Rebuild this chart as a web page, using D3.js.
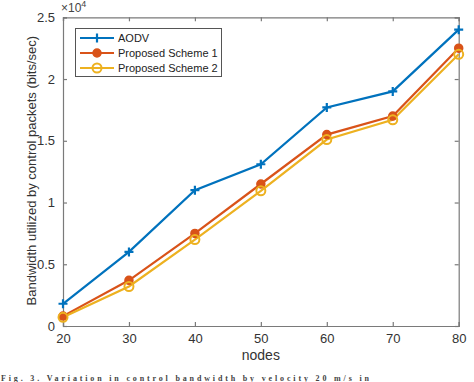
<!DOCTYPE html>
<html><head><meta charset="utf-8">
<script src="https://cdn.jsdelivr.net/npm/d3@7"></script>
<style>body{margin:0;background:#fff}svg{display:block}</style>
</head><body>
<svg id="c" width="474" height="382"></svg>
<script>
const nodes = [20, 30, 40, 50, 60, 70, 80];
const aodv = [1800, 6000, 11000, 13100, 17700, 19000, 24000];
const scheme1 = [800, 3700, 7500, 11500, 15500, 17000, 22500];
const scheme2 = [700, 3200, 7000, 10950, 15100, 16700, 22000];
const seriesNames = ["AODV", "Proposed Scheme 1", "Proposed Scheme 2"];
const yTicks = [0, 5000, 10000, 15000, 20000, 25000];
const yTickLabels = ["0", "0.5", "1", "1.5", "2", "2.5"];
const xTicks = [20, 30, 40, 50, 60, 70, 80];

const svg = d3.select("#c");
const L = 63, R = 458.7, T = 17.3, B = 326;
const x = d3.scaleLinear().domain([20, 80]).range([L, R]);
const y = d3.scaleLinear().domain([0, 25000]).range([B, T]);
const font = "Arial, 'Liberation Sans', sans-serif";
const axisCol = "#7a7a7a";
const colors = ["#0072BD", "#D95319", "#EDB120"];

// axes
const ax = svg.append("g").attr("transform", `translate(0,${B})`)
  .call(d3.axisBottom(x).tickValues(xTicks).tickSize(-4).tickPadding(8).tickFormat(d3.format("d")));
const axT = svg.append("g").attr("transform", `translate(0,${T})`)
  .call(d3.axisTop(x).tickValues(xTicks).tickSize(-4).tickFormat(""));
const ay = svg.append("g").attr("transform", `translate(${L},0)`)
  .call(d3.axisLeft(y).tickValues(yTicks).tickSize(-4).tickPadding(8).tickFormat((d,i)=>yTickLabels[i]));
const ayR = svg.append("g").attr("transform", `translate(${R},0)`)
  .call(d3.axisRight(y).tickValues(yTicks).tickSize(-4).tickFormat(""));
[ax, axT, ay, ayR].forEach(g => {
  g.selectAll("path,line").attr("stroke", axisCol).attr("stroke-width", 1.2);
  g.selectAll("text").attr("fill", "#333").attr("font-family", font).attr("font-size", 13);
});

svg.append("text").attr("x", L - 2).attr("y", 12).attr("font-family", font)
  .attr("font-size", 12).attr("fill", "#444")
  .html('×10<tspan dy="-5" font-size="9">4</tspan>');

svg.append("text").attr("x", (L + R) / 2).attr("y", 360).attr("text-anchor", "middle")
  .attr("font-family", font).attr("font-size", 14).attr("fill", "#333").text("nodes");
svg.append("text").attr("transform", `translate(36,${(T + B) / 2 - 1}) rotate(-90)`)
  .attr("text-anchor", "middle").attr("font-family", font).attr("font-size", 13)
  .attr("fill", "#333").text("Bandwidth utilized by control packets (bits/sec)");

// lines
const data = [aodv, scheme1, scheme2];
const line = d3.line().x((d, i) => x(nodes[i])).y(d => y(d));
data.forEach((s, k) => {
  svg.append("path").datum(s).attr("d", line).attr("fill", "none")
    .attr("stroke", colors[k]).attr("stroke-width", 2.2);
});
function marker(g, k, cx, cy) {
  if (k === 0) {
    g.append("path").attr("d", `M${cx-4.5},${cy}H${cx+4.5}M${cx},${cy-4.5}V${cy+4.5}`)
      .attr("stroke", colors[0]).attr("stroke-width", 2.2);
  } else if (k === 1) {
    g.append("circle").attr("cx", cx).attr("cy", cy).attr("r", 4)
      .attr("fill", colors[1]).attr("stroke", colors[1]).attr("stroke-width", 1.5);
  } else {
    g.append("circle").attr("cx", cx).attr("cy", cy).attr("r", 4.5)
      .attr("fill", "none").attr("stroke", colors[2]).attr("stroke-width", 2);
  }
}
const mg = svg.append("g");
data.forEach((s, k) => s.forEach((v, i) => marker(mg, k, x(nodes[i]), y(v))));

// legend
const lg = svg.append("g");
lg.append("rect").attr("x", 75.5).attr("y", 28.5).attr("width", 146).attr("height", 48)
  .attr("fill", "#fff").attr("stroke", "#555").attr("stroke-width", 1);
seriesNames.forEach((n, k) => {
  const yy = 38 + k * 15;
  lg.append("line").attr("x1", 80).attr("x2", 114).attr("y1", yy).attr("y2", yy)
    .attr("stroke", colors[k]).attr("stroke-width", 2.2);
  marker(lg, k, 97, yy);
  lg.append("text").attr("x", 118).attr("y", yy + 4).attr("font-family", font)
    .attr("font-size", 11).attr("fill", "#222").text(n);
});

// caption (only its top strip shows in the reference)
svg.append("text").attr("x", 1).attr("y", 381).attr("font-family", "'Liberation Serif', 'DejaVu Serif', serif")
  .attr("font-size", 8).attr("font-weight", "bold").attr("fill", "#444")
  .attr("textLength", 368).attr("lengthAdjust", "spacing")
  .text("Fig. 3.   Variation in control bandwidth by velocity 20 m/s in");
</script>
</body></html>
